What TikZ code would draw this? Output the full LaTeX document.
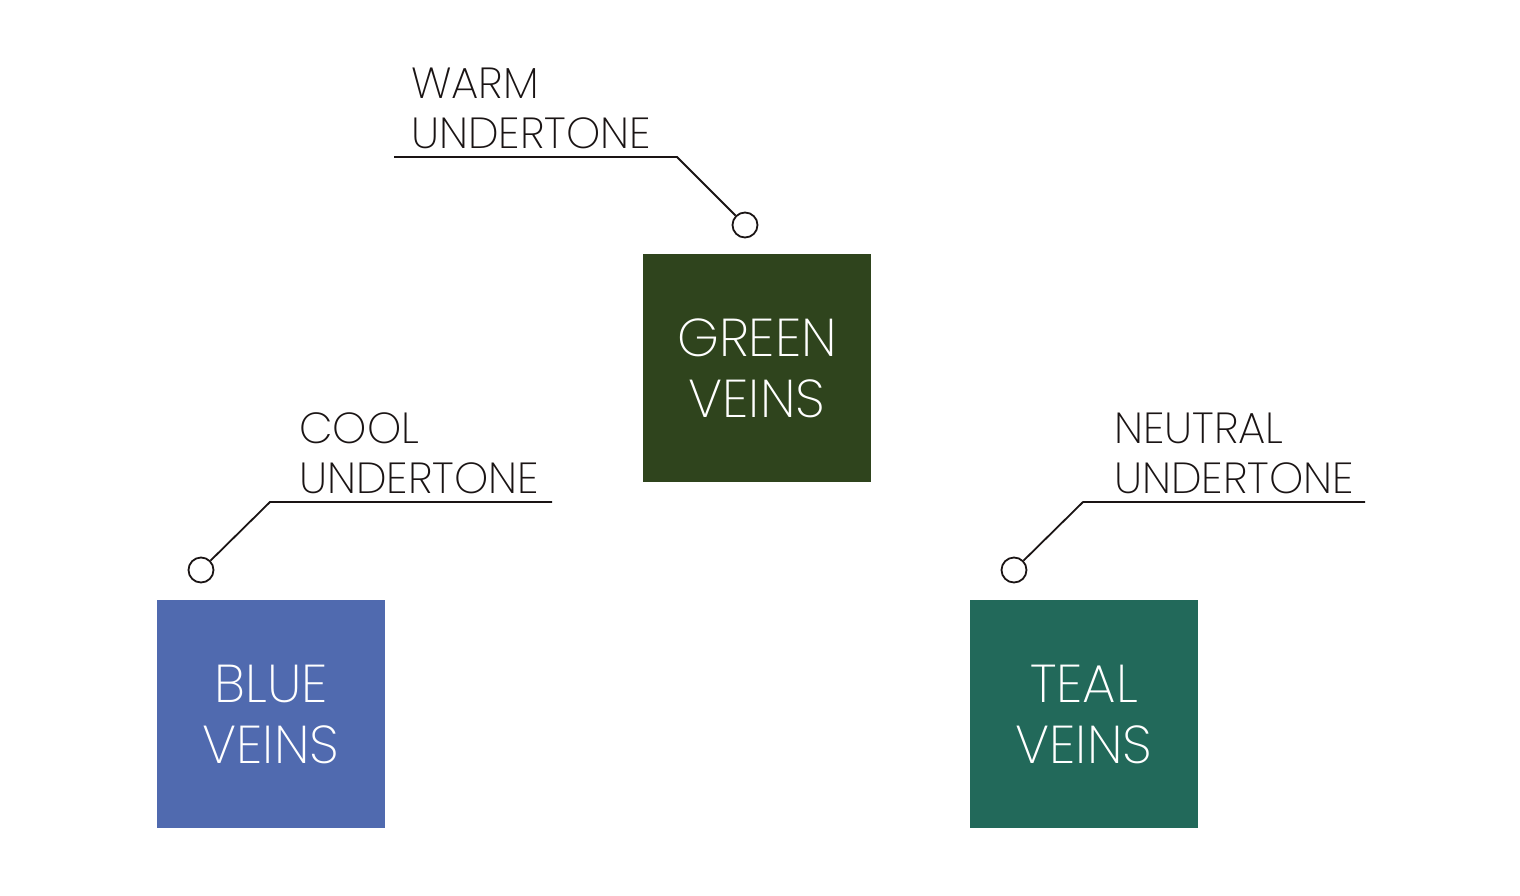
\documentclass[tikz,border=0pt]{standalone}
\usepackage{fontspec}
\setmainfont{Poppins}[UprightFont=* ExtraLight]
\definecolor{greenbox}{HTML}{2F441D}
\definecolor{bluebox}{HTML}{506AAF}
\definecolor{tealbox}{HTML}{22695A}
\definecolor{ink}{HTML}{1A1414}
\tikzset{
  veinbox/.style={minimum width=228pt, minimum height=228pt, inner sep=0pt, draw=none, text=white, align=center,
    font=\fontsize{53.3}{61}\selectfont},
  tonelabel/.style={anchor=base west, inner sep=0pt, text=ink, font=\fontsize{43.5}{50}\selectfont},
  pin/.style={circle, draw=ink, line width=1.8pt, minimum size=25pt, inner sep=0pt, fill=white},
  leader/.style={draw=ink, line width=1.8pt}
}
\begin{document}
\begin{tikzpicture}[x=1pt, y=-1pt]
\useasboundingbox (0,0) rectangle (1520,895);
% boxes
\node[veinbox, fill=greenbox] (green) at (757,368) {GREEN\\VEINS};
\node[veinbox, fill=bluebox] (blue) at (271,714) {BLUE\\VEINS};
\node[veinbox, fill=tealbox] (teal) at (1084,714) {TEAL\\VEINS};
% warm
\node[tonelabel] (warm1) at (411,98) {WARM};
\node[tonelabel] (warm2) at (411,148) {UNDERTONE};
\coordinate (wa) at (394,157);
\coordinate (wb) at (677,157);
\node[pin] (wc) at (745,225) {};
\draw[leader] (wa) -- (wb) -- (wc);
% cool
\node[tonelabel] (cool1) at (299,443) {COOL};
\node[tonelabel] (cool2) at (299,493) {UNDERTONE};
\coordinate (ca) at (552,502);
\coordinate (cb) at (270,502);
\node[pin] (cc) at (201,570) {};
\draw[leader] (ca) -- (cb) -- (cc);
% neutral
\node[tonelabel] (neu1) at (1114,443) {NEUTRAL};
\node[tonelabel] (neu2) at (1114,493) {UNDERTONE};
\coordinate (na) at (1365,502);
\coordinate (nb) at (1083,502);
\node[pin] (nc) at (1014,570) {};
\draw[leader] (na) -- (nb) -- (nc);
\end{tikzpicture}
\end{document}
